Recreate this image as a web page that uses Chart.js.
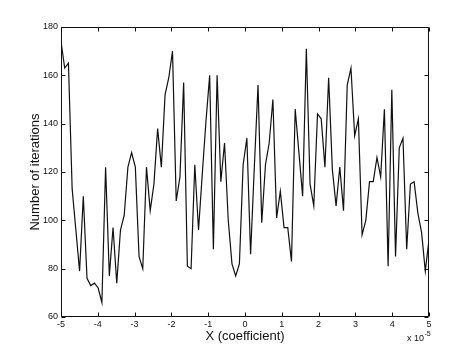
<!DOCTYPE html>
<html>
<head>
<meta charset="utf-8">
<script src="https://cdn.jsdelivr.net/npm/chart.js@4/dist/chart.umd.min.js"></script>
<style>
  html, body { margin: 0; padding: 0; background: #fff; }
  #c { display: block; }
</style>
</head>
<body>
<canvas id="c" width="474" height="357"></canvas>
<script>
// x positions of the samples (coefficient, in units of 1e-5)
const xValues = [
  -5, -4.899, -4.798, -4.697, -4.596, -4.495, -4.394, -4.293, -4.192, -4.091,
  -3.990, -3.889, -3.788, -3.687, -3.586, -3.485, -3.384, -3.283, -3.182, -3.081,
  -2.980, -2.879, -2.778, -2.677, -2.576, -2.475, -2.374, -2.273, -2.172, -2.071,
  -1.970, -1.869, -1.768, -1.667, -1.566, -1.465, -1.364, -1.263, -1.162, -1.061,
  -0.960, -0.859, -0.758, -0.657, -0.556, -0.455, -0.354, -0.253, -0.152, -0.051,
  0.051, 0.152, 0.253, 0.354, 0.455, 0.556, 0.657, 0.758, 0.859, 0.960,
  1.061, 1.162, 1.263, 1.364, 1.465, 1.566, 1.667, 1.768, 1.869, 1.970,
  2.071, 2.172, 2.273, 2.374, 2.475, 2.576, 2.677, 2.778, 2.879, 2.980,
  3.081, 3.182, 3.283, 3.384, 3.485, 3.586, 3.687, 3.788, 3.889, 3.990,
  4.091, 4.192, 4.293, 4.394, 4.495, 4.596, 4.697, 4.798, 4.899, 5
];
// number of iterations
const iterations = [
  174, 163, 165, 113, 96, 79, 110, 76, 73, 74,
  72, 66, 122, 77, 97, 74, 96, 102, 122, 128,
  122, 85, 80, 122, 104, 115, 138, 122, 152, 159,
  170, 108, 118, 157, 81, 80, 123, 96, 119, 141,
  160, 88, 160, 116, 132, 100, 82, 77, 82, 123,
  134, 86, 122, 156, 99, 123, 132, 150, 101, 112,
  97, 97, 83, 146, 128, 110, 171, 115, 106, 144,
  142, 122, 159, 121, 106, 122, 104, 156, 163, 135,
  142, 94, 100, 116, 116, 126, 118, 146, 81, 154,
  85, 130, 134, 88, 115, 116, 103, 95, 79, 92
];
const xTickValues = [-5, -4, -3, -2, -1, 0, 1, 2, 3, 4, 5];
const yTickValues = [60, 80, 100, 120, 140, 160, 180];
const xTitle = 'X (coefficient)';
const yTitle = 'Number of iterations';
const xExponentBase = 'x 10';
const xExponent = '-5';

const FONT = '"Liberation Sans", Arial, Helvetica, sans-serif';

const points = xValues.map((x, i) => ({ x: x, y: iterations[i] }));

const boxPlugin = {
  id: 'matlabBox',
  afterDraw(chart) {
    const { ctx, chartArea: a, scales } = chart;
    const xs = scales.x, ys = scales.y;
    const L = Math.round(a.left) + 0.5, R = Math.round(a.right) - 0.5;
    const T = Math.round(a.top) + 0.5, B = Math.round(a.bottom) - 0.5;
    ctx.save();
    ctx.strokeStyle = '#111';
    ctx.lineWidth = 1;
    ctx.beginPath();
    ctx.moveTo(L, T); ctx.lineTo(R, T); ctx.lineTo(R, B); ctx.lineTo(L, B); ctx.closePath();
    const tl = 4;
    xTickValues.forEach(v => {
      const px = Math.round(xs.getPixelForValue(v)) + 0.5;
      ctx.moveTo(px, B); ctx.lineTo(px, B - tl);
      ctx.moveTo(px, T); ctx.lineTo(px, T + tl);
    });
    yTickValues.forEach(v => {
      const py = Math.round(ys.getPixelForValue(v)) + 0.5;
      ctx.moveTo(L, py); ctx.lineTo(L + tl, py);
      ctx.moveTo(R, py); ctx.lineTo(R - tl, py);
    });
    ctx.stroke();
    // exponent label under the right end of the x axis
    ctx.fillStyle = '#111';
    ctx.textBaseline = 'middle';
    ctx.textAlign = 'left';
    ctx.font = '9px ' + FONT;
    const bx = a.right - 22;
    ctx.fillText(xExponentBase, bx, a.bottom + 22);
    const w = ctx.measureText(xExponentBase).width;
    ctx.font = '7px ' + FONT;
    ctx.fillText(xExponent, bx + w + 0.5, a.bottom + 17);
    ctx.restore();
  }
};

new Chart(document.getElementById('c'), {
  type: 'line',
  data: {
    datasets: [{
      data: points,
      borderColor: '#111',
      borderWidth: 1.2,
      pointRadius: 0,
      fill: false,
      tension: 0
    }]
  },
  options: {
    responsive: false,
    animation: false,
    devicePixelRatio: 1,
    layout: { padding: { left: 0, right: 45, top: 27, bottom: 0 } },
    plugins: { legend: { display: false }, tooltip: { enabled: false } },
    scales: {
      x: {
        type: 'linear',
        min: -5, max: 5,
        afterFit: s => { s.height = 40; },
        afterBuildTicks: s => { s.ticks = xTickValues.map(v => ({ value: v })); },
        grid: { display: false, drawTicks: false },
        border: { display: false },
        ticks: {
          color: '#111', padding: 2, maxRotation: 0, autoSkip: false,
          font: { family: FONT, size: 9 },
          callback: v => String(v)
        },
        title: {
          display: true, text: xTitle, color: '#111',
          font: { family: FONT, size: 13 },
          padding: { top: 0, bottom: 13 }
        }
      },
      y: {
        type: 'linear',
        min: 60, max: 180,
        afterFit: s => { s.width = 61; },
        afterBuildTicks: s => { s.ticks = yTickValues.map(v => ({ value: v })); },
        grid: { display: false, drawTicks: false },
        border: { display: false },
        ticks: {
          color: '#111', padding: 3, autoSkip: false,
          font: { family: FONT, size: 9 },
          callback: v => String(v)
        },
        title: {
          display: true, text: yTitle, color: '#111',
          font: { family: FONT, size: 13 },
          padding: { top: 28, bottom: 0 }
        }
      }
    }
  },
  plugins: [boxPlugin]
});
</script>
</body>
</html>
